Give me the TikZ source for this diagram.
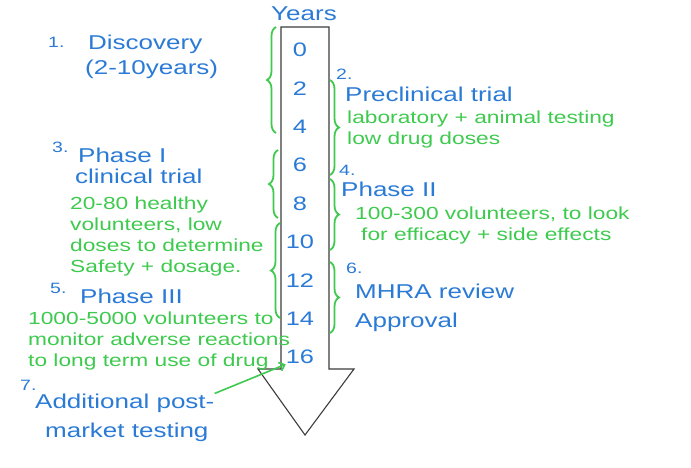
\documentclass[tikz,border=0pt]{standalone}
\usepackage{fontspec}
\newfontfamily\hand[FakeStretch=1.3]{Liberation Sans}
\usetikzlibrary{
    arrows.meta,
    positioning,
    decorations.pathreplacing
}
\definecolor{handblue}{RGB}{42,122,214}
\definecolor{handgreen}{RGB}{62,202,78}
\definecolor{arrowgrey}{RGB}{60,60,60}

\begin{document}
\begin{tikzpicture}[
    x=1pt, y=-1pt,
    head/.style={text=handblue, font=\hand\fontsize{20}{22}\selectfont, inner sep=0pt, anchor=west},
    note/.style={text=handgreen, font=\hand\fontsize{17.5}{21}\selectfont, inner sep=0pt, anchor=west, align=left},
    idx/.style={text=handblue, font=\hand\fontsize{15}{16}\selectfont, inner sep=0pt, anchor=west},
    num/.style={text=handblue, font=\hand\fontsize{19.5}{21}\selectfont, inner sep=0pt},
    span/.style={draw=handgreen, line width=1.8pt, decorate, decoration={brace, amplitude=9pt}},
    link/.style={draw=handgreen, line width=1.6pt, -{Straight Barb[length=5pt,width=9pt]}}
]
\useasboundingbox (0,0) rectangle (691,467);

% timeline arrow
\draw[arrowgrey, line width=1.1pt, fill=white]
    (281,27) -- (329,27) -- (329,369) -- (354,369) -- (305,435) -- (258,369) -- (281,369) -- cycle;
\node[head, anchor=center] (years) at (304,14) {Years};
\foreach \v [count=\i from 0] in {0,2,4,6,8,10,12,14,16}
    \node[num] (y\v) at (300,50+38.4*\i) {\v};

% braces
\coordinate (l1a) at (276,133);
\coordinate (l1b) at (276,27);
\coordinate (l2a) at (278,218);
\coordinate (l2b) at (278,150);
\coordinate (l3a) at (280,318);
\coordinate (l3b) at (280,223);
\coordinate (r1a) at (330,80);
\coordinate (r1b) at (330,175);
\coordinate (r2a) at (330,179);
\coordinate (r2b) at (330,250);
\coordinate (r3a) at (330,262);
\coordinate (r3b) at (330,333);
\draw[span] (l1a) -- (l1b);
\draw[span] (l2a) -- (l2b);
\draw[span] (l3a) -- (l3b);
\draw[span] (r1a) -- (r1b);
\draw[span] (r2a) -- (r2b);
\draw[span] (r3a) -- (r3b);

% left side
\node[idx] (i1) at (48,42) {1.};
\node[head] (disc) at (88,44) {Discovery};
\node[head] (discyrs) at (85,69) {(2-10years)};
\node[idx] (i3) at (52,147) {3.};
\node[head] (ph1) at (78,155) {Phase I};
\node[head] (clin) at (75,176) {clinical trial};
\node[note] (ph1txt) at (70,236) {20-80 healthy\\volunteers, low\\doses to determine\\Safety + dosage.};
\node[idx] (i5) at (50,288) {5.};
\node[head] (ph3) at (80,296) {Phase III};
\node[note] (ph3txt) at (28,341) {1000-5000 volunteers to\\monitor adverse reactions\\to long term use of drug};
\node[idx] (i7) at (20,385) {7.};
\node[head] (addl) at (35,403) {Additional post-};
\node[head] (mkt) at (45,432) {market testing};

% right side
\node[idx] (i2) at (336,74) {2.};
\node[head] (pre) at (345,94) {Preclinical trial};
\node[note] (pretxt) at (347,129) {laboratory + animal testing\\low drug doses};
\node[idx] (i4) at (339,170) {4.};
\node[head] (ph2) at (341,189) {Phase II};
\node[note] (ph2txt) at (355,225) {100-300 volunteers, to look\\\hspace*{6pt}for efficacy + side effects};
\node[idx] (i6) at (346,268) {6.};
\node[head] (mhra) at (355,291) {MHRA review};
\node[head] (appr) at (355,322) {Approval};

% post-market pointer
\draw[link] (addl.north east) -- (y16.south west);
\end{tikzpicture}
\end{document}
